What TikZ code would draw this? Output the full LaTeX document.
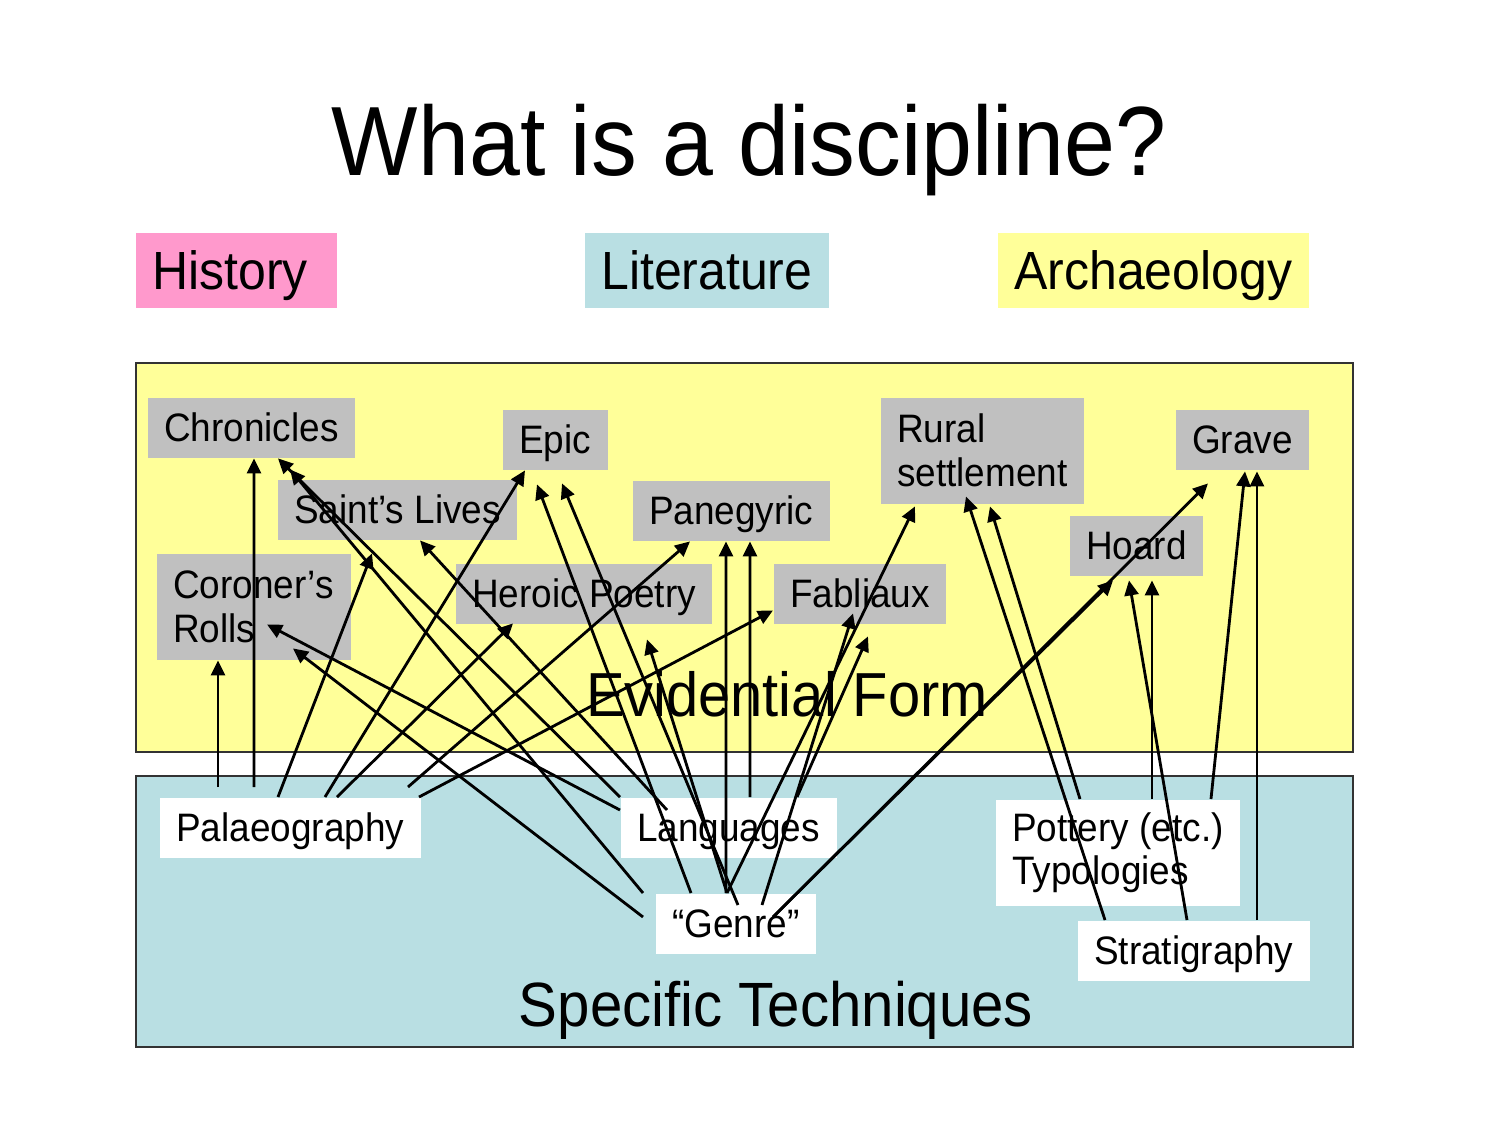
\documentclass[tikz,border=0pt]{standalone}
\usepackage{fontspec}
\setmainfont[FakeStretch=0.93]{Liberation Sans}
\usetikzlibrary{arrows.meta}
\definecolor{histpink}{HTML}{FF99CC}
\definecolor{litcyan}{HTML}{B9DFE3}
\definecolor{archyellow}{HTML}{FFFF99}
\definecolor{formgray}{HTML}{C0C0C0}
\newcommand{\lblfont}{\fontsize{11.3pt}{12.5pt}\selectfont}

\begin{document}
\begin{tikzpicture}[
  disc/.style={anchor=north west, inner xsep=1.65mm, inner ysep=0pt, minimum height=7.5mm,
    text height=10.9pt, text depth=0pt, font=\fontsize{15.3pt}{17pt}\selectfont},
  area/.style={anchor=north west, draw=black!80, line width=0.5pt, minimum width=12.17cm},
  form/.style={anchor=north west, fill=formgray, inner xsep=1.65mm, inner ysep=0pt,
    minimum height=6mm, align=left, font=\lblfont},
  oneline/.style={text height=8.1pt, text depth=0pt},
  tech/.style={form, fill=white},
  link/.style={-{Triangle[length=1.5mm,width=1.4mm]}, line width=0.8pt}
]
\useasboundingbox (0,0) rectangle (15,-11.25);

% Title and the three disciplines
\node[anchor=base, font=\fontsize{28pt}{32pt}\selectfont] (title) at (7.49,-1.75) {What is a discipline?};
\node[disc, fill=histpink, text width=1.68cm, align=left] (hist) at (1.35,-2.32) {History};
\node[disc, fill=litcyan] (lit) at (5.84,-2.32) {Literature};
\node[disc, fill=archyellow] (arch) at (9.97,-2.32) {Archaeology};

% The two big areas
\node[area, fill=archyellow, minimum height=3.89cm] (evid) at (1.35,-3.62) {};
\node[anchor=base, font=\fontsize{17.7pt}{20pt}\selectfont] (evidlbl) at (7.87,-7.16) {Evidential Form};
\node[area, fill=litcyan, minimum height=2.71cm] (techs) at (1.35,-7.75) {};
\node[anchor=base, font=\fontsize{17.8pt}{20pt}\selectfont] (techslbl) at (7.76,-10.26) {Specific Techniques};

% Evidential forms
\node[form, oneline] (chron) at (1.47,-3.97) {Chronicles};
\node[form, oneline] (saints) at (2.77,-4.79) {Saint’s Lives};
\node[form, minimum height=10.6mm] (coroner) at (1.56,-5.53) {Coroner’s\\Rolls};
\node[form, oneline] (epic) at (5.02,-4.09) {Epic};
\node[form, oneline] (paneg) at (6.32,-4.80) {Panegyric};
\node[form, oneline] (heroic) at (4.55,-5.63) {Heroic Poetry};
\node[form, oneline] (fabl) at (7.73,-5.63) {Fabliaux};
\node[form, minimum height=10.6mm] (rural) at (8.80,-3.97) {Rural\\settlement};
\node[form, oneline] (grave) at (11.75,-4.09) {Grave};
\node[form, oneline] (hoard) at (10.69,-5.15) {Hoard};

% Specific techniques
\node[tech, oneline] (palaeo) at (1.59,-7.97) {Palaeography};
\node[tech, oneline] (lang) at (6.20,-7.97) {Languages};
\node[tech, oneline] (genre) at (6.55,-8.93) {“Genre”};
\node[tech, minimum height=10.6mm] (pottery) at (9.95,-7.99) {Pottery (etc.)\\Typologies};
\node[tech, oneline] (strat) at (10.77,-9.20) {Stratigraphy};

% Palaeography
\draw[link] ([xshift=0.59cm,yshift=0.10cm]palaeo.north west) -- ([xshift=0.62cm]coroner.south west);
\draw[link] ([xshift=0.95cm,yshift=0.10cm]palaeo.north west) -- ([xshift=1.07cm]chron.south west);
\draw[link] ([xshift=1.19cm]palaeo.north west) -- ([xshift=0.95cm,yshift=-0.13cm]saints.south west);
\draw[link] ([xshift=1.66cm]palaeo.north west) -- ([xshift=0.23cm]epic.south west);
\draw[link] ([xshift=1.78cm]palaeo.north west) -- ([xshift=0.58cm,yshift=0.01cm]heroic.south west);
\draw[link] ([xshift=2.49cm,yshift=0.10cm]palaeo.north west) -- ([xshift=0.58cm]paneg.south west);
\draw[link] ([xshift=2.60cm]palaeo.north west) -- ([yshift=0.14cm]fabl.south west);

% Languages
\draw[link] (lang.north west) -- ([xshift=1.31cm]chron.south west);
\draw[link] ([yshift=-0.13cm]lang.north west) -- ([xshift=1.11cm,yshift=0.36cm]coroner.south west);
\draw[link] ([xshift=0.47cm,yshift=-0.13cm]lang.north west) -- ([xshift=1.43cm]saints.south west);
\draw[link] ([xshift=1.30cm]lang.north west) -- ([xshift=1.18cm]paneg.south west);
\draw[link] ([xshift=1.77cm]lang.north west) -- ([xshift=0.95cm,yshift=-0.12cm]fabl.south west);

% "Genre"
\draw[link] ([xshift=-0.12cm,yshift=-0.24cm]genre.north west) -- ([xshift=1.37cm,yshift=0.12cm]coroner.south west);
\draw[link] ([xshift=-0.12cm]genre.north west) -- ([xshift=1.43cm,yshift=-0.11cm]chron.south west);
\draw[link] ([xshift=0.36cm]genre.north west) -- ([xshift=0.35cm,yshift=-0.14cm]epic.south west);
\draw[link] ([xshift=0.83cm,yshift=-0.12cm]genre.north west) -- ([xshift=0.60cm,yshift=-0.13cm]epic.south west);
\draw[link] ([xshift=0.72cm]genre.north west) -- ([xshift=1.92cm,yshift=-0.15cm]heroic.south west);
\draw[link] ([xshift=0.71cm]genre.north west) -- ([xshift=0.94cm]paneg.south west);
\draw[link] ([xshift=0.72cm]genre.north west) -- ([xshift=0.35cm,yshift=-0.02cm]rural.south west);
\draw[link] ([xshift=1.07cm,yshift=-0.12cm]genre.north west) -- ([xshift=0.80cm,yshift=0.11cm]fabl.south west);
\draw[link] ([xshift=1.18cm,yshift=-0.24cm]genre.north west) -- ([xshift=0.44cm,yshift=-0.04cm]hoard.south west);
\draw[link] ([xshift=1.18cm,yshift=-0.24cm]genre.north west) -- ([xshift=0.33cm,yshift=-0.13cm]grave.south west);

% Pottery typologies
\draw[link] ([xshift=0.85cm]pottery.north west) -- ([xshift=1.10cm,yshift=-0.02cm]rural.south west);
\draw[link] ([xshift=1.57cm]pottery.north west) -- ([xshift=0.83cm,yshift=-0.04cm]hoard.south west);
\draw[link] ([xshift=2.16cm]pottery.north west) -- ([xshift=0.70cm,yshift=-0.01cm]grave.south west);

% Stratigraphy
\draw[link] ([xshift=0.28cm]strat.north west) -- ([xshift=0.86cm,yshift=0.08cm]rural.south west);
\draw[link] ([xshift=1.10cm]strat.north west) -- ([xshift=0.60cm,yshift=-0.04cm]hoard.south west);
\draw[link] ([xshift=1.80cm]strat.north west) -- ([xshift=0.82cm,yshift=-0.01cm]grave.south west);
\end{tikzpicture}
\end{document}
